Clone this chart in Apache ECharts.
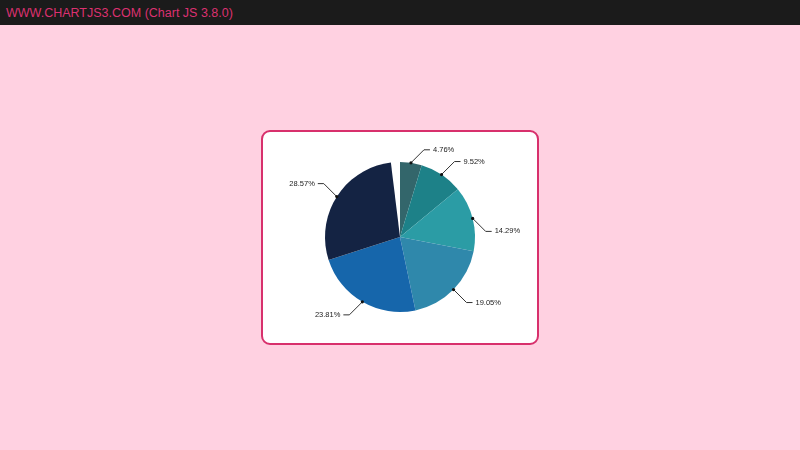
<!DOCTYPE html>
<html>
<head>
<meta charset="utf-8">
<script src="https://cdn.jsdelivr.net/npm/echarts@6/dist/echarts.min.js"></script>
<style>
  body { margin: 0; width: 800px; height: 450px; background: #ffd1e1; position: relative; overflow: hidden; font-family: "Liberation Sans", Arial, sans-serif; }
  #top { position: absolute; left: 0; top: 0; width: 800px; height: 25px; background: #1b1b1b; color: #dc3170; font-size: 12.5px; line-height: 26px; padding-left: 6px; box-sizing: border-box; }
  #box { position: absolute; left: 261px; top: 130px; width: 278px; height: 215px; box-sizing: border-box; background: #fff; border: 2px solid #d8306c; border-radius: 9px; }
  #main { position: absolute; left: 0; top: 0; width: 800px; height: 450px; }
</style>
</head>
<body>
<div id="top">WWW.CHARTJS3.COM (Chart JS 3.8.0)</div>
<div id="box"></div>
<div id="main"></div>
<script>
// data
var labels = ['A', 'B', 'C', 'D', 'E', 'F'];
var values = [1, 2, 3, 4, 5, 6];
var colors = ['#33666b', '#1d8188', '#2b9ca5', '#2f88ab', '#1666ab', '#142343'];

var pieCenter = [400, 237];
var pieRadius = 75;

var myChart = echarts.init(document.getElementById('main'));
var dots = [];

var pieData = labels.map(function (name, i) {
    return { name: name, value: values[i], itemStyle: { color: colors[i] } };
});

// chartjs style leader: 45deg out from the edge, then a short flat piece
function leader(params) {
    var pts = params.labelLinePoints;
    if (!pts) return;
    var p0 = pts[0];
    var sx = p0[0] >= pieCenter[0] ? 1 : -1;
    var sy = p0[1] < pieCenter[1] - pieRadius * 0.4 ? -1 : 1;
    var elbow = [p0[0] + sx * 13, p0[1] + sy * 13];
    var end = [elbow[0] + sx * 6, elbow[1]];
    dots[params.dataIndex] = p0;
    return {
        x: end[0] + sx * 3,
        y: elbow[1],
        align: sx > 0 ? 'left' : 'right',
        verticalAlign: 'middle',
        labelLinePoints: [p0, elbow, end]
    };
}

var option = {
    animation: false,
    series: [{
        type: 'pie',
        center: pieCenter,
        radius: pieRadius,
        startAngle: 90,
        endAngle: -263, // small gap before the first slice
        clockwise: true,
        data: pieData,
        itemStyle: { borderWidth: 0 },
        label: {
            formatter: '{d}%',
            fontSize: 7.5,
            color: '#222',
            fontFamily: 'Liberation Sans, Arial, sans-serif'
        },
        labelLine: {
            length: 17,
            length2: 7,
            lineStyle: { color: '#333', width: 1 }
        },
        labelLayout: leader
    }]
};

myChart.setOption(option);

// little dots where the leader lines touch the slices
var dotGraphics = dots.map(function (p) {
    return { type: 'circle', shape: { cx: p[0], cy: p[1], r: 1.6 }, style: { fill: '#111' }, z: 100 };
});
myChart.setOption({ graphic: dotGraphics });
</script>
</body>
</html>
